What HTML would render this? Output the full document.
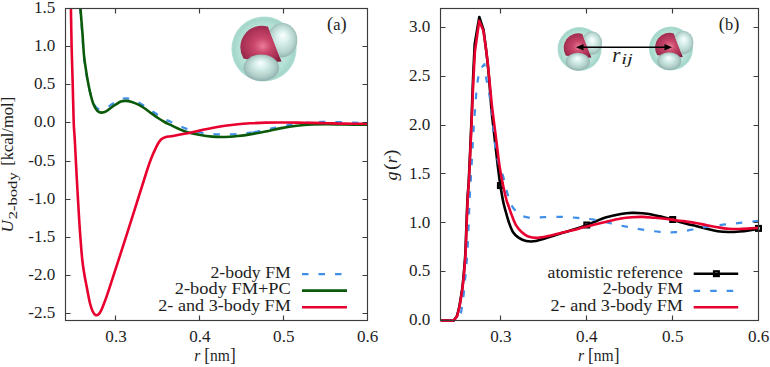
<!DOCTYPE html><html><head><meta charset="utf-8"><style>html,body{margin:0;padding:0;background:#fff;width:770px;height:367px;overflow:hidden}svg{display:block}text{font-family:"Liberation Serif", serif;fill:#1e1e1e}</style></head><body>
<svg width="770" height="367" viewBox="0 0 770 367">
<defs><clipPath id="cl"><rect x="65" y="8" width="302" height="312.5"/></clipPath><clipPath id="cr"><rect x="440.5" y="8" width="318" height="314"/></clipPath><radialGradient id="halo" cx="0.5" cy="0.5" r="0.5"><stop offset="0" stop-color="#c4eae0"/><stop offset="0.75" stop-color="#b6e2d6"/><stop offset="0.93" stop-color="#a4d6ca"/><stop offset="1" stop-color="#b4e0d6"/></radialGradient><radialGradient id="oxy" cx="0.5" cy="0.5" r="0.6" fx="0.55" fy="0.55"><stop offset="0" stop-color="#ec7c98"/><stop offset="0.35" stop-color="#c8466a"/><stop offset="0.8" stop-color="#a42e52"/><stop offset="1" stop-color="#84203e"/></radialGradient><radialGradient id="hyd" cx="0.5" cy="0.5" r="0.55" fx="0.52" fy="0.35"><stop offset="0" stop-color="#fbfffe"/><stop offset="0.3" stop-color="#dcf2ee"/><stop offset="0.72" stop-color="#b6d4ce"/><stop offset="1" stop-color="#8cacaa"/></radialGradient><radialGradient id="hyd2" cx="0.5" cy="0.5" r="0.55" fx="0.48" fy="0.3"><stop offset="0" stop-color="#fbfffe"/><stop offset="0.3" stop-color="#d8f0ec"/><stop offset="0.72" stop-color="#b0cec8"/><stop offset="1" stop-color="#88a6a6"/></radialGradient></defs>
<path d="M80.00,0.00 C80.03,1.37 79.83,2.77 80.20,8.20 C80.57,13.63 81.60,24.73 82.20,32.60 C82.80,40.47 83.25,49.50 83.80,55.40 C84.35,61.30 84.95,64.18 85.50,68.00 C86.05,71.82 86.42,74.55 87.10,78.30 C87.78,82.05 88.65,86.63 89.60,90.50 C90.55,94.37 91.63,98.62 92.80,101.50 C93.97,104.38 95.32,106.47 96.60,107.80 C97.88,109.13 99.02,109.37 100.50,109.50 C101.98,109.63 103.55,109.52 105.50,108.60 C107.45,107.68 110.53,105.13 112.20,104.00 C113.87,102.87 114.05,102.63 115.50,101.80 C116.95,100.97 119.08,99.58 120.90,99.00 C122.72,98.42 124.58,98.25 126.40,98.30 C128.22,98.35 129.80,98.62 131.80,99.30 C133.80,99.98 136.22,101.23 138.40,102.40 C140.58,103.57 142.72,104.92 144.90,106.30 C147.08,107.68 149.32,109.23 151.50,110.70 C153.68,112.17 155.83,113.73 158.00,115.10 C160.17,116.47 162.50,117.83 164.50,118.90 C166.50,119.97 167.75,120.45 170.00,121.50 C172.25,122.55 175.33,124.02 178.00,125.20 C180.67,126.38 182.28,127.38 186.00,128.60 C189.72,129.82 195.33,131.55 200.30,132.50 C205.27,133.45 210.50,134.00 215.80,134.30 C221.10,134.60 226.25,134.58 232.10,134.30 C237.95,134.02 247.57,132.92 250.90,132.60 C254.23,132.28 251.90,132.43 252.10,132.40" fill="none" stroke="#3f8fe8" stroke-width="2.2" stroke-linejoin="round" stroke-dasharray="6.5,10" stroke-dashoffset="8.90" id="lb1" clip-path="url(#cl)"/>
<path d="M252.10,132.40 C252.98,132.25 254.12,132.17 257.40,131.50 C260.68,130.83 266.67,129.45 271.80,128.40 C276.93,127.35 282.67,126.10 288.20,125.20 C293.73,124.30 299.42,123.55 305.00,123.00 C310.58,122.45 315.93,122.05 321.70,121.90 C327.47,121.75 333.37,121.93 339.60,122.10 C345.83,122.27 354.37,122.72 359.10,122.90 C363.83,123.08 366.52,123.15 368.00,123.20" fill="none" stroke="#3f8fe8" stroke-width="2.2" stroke-linejoin="round" stroke-dasharray="6.5,10" stroke-dashoffset="14.70" id="lb2" clip-path="url(#cl)"/>
<path d="M80.00,0.00 C80.07,1.37 80.00,2.77 80.40,8.20 C80.80,13.63 81.80,24.73 82.40,32.60 C83.00,40.47 83.45,49.50 84.00,55.40 C84.55,61.30 85.15,64.18 85.70,68.00 C86.25,71.82 86.62,74.47 87.30,78.30 C87.98,82.13 88.83,86.83 89.80,91.00 C90.77,95.17 91.88,100.03 93.10,103.30 C94.32,106.57 95.75,109.05 97.10,110.60 C98.45,112.15 99.70,112.47 101.20,112.60 C102.70,112.73 104.18,112.42 106.10,111.40 C108.02,110.38 111.13,107.62 112.70,106.50 C114.27,105.38 114.13,105.53 115.50,104.70 C116.87,103.87 119.18,102.13 120.90,101.50 C122.62,100.87 123.98,100.82 125.80,100.90 C127.62,100.98 129.70,101.37 131.80,102.00 C133.90,102.63 136.22,103.62 138.40,104.70 C140.58,105.78 142.72,107.05 144.90,108.50 C147.08,109.95 149.32,111.82 151.50,113.40 C153.68,114.98 155.83,116.57 158.00,118.00 C160.17,119.43 162.50,120.88 164.50,122.00 C166.50,123.12 167.75,123.62 170.00,124.70 C172.25,125.78 175.33,127.32 178.00,128.50 C180.67,129.68 182.50,130.77 186.00,131.80 C189.50,132.83 194.67,133.90 199.00,134.70 C203.33,135.50 207.67,136.22 212.00,136.60 C216.33,136.98 220.68,137.10 225.00,137.00 C229.32,136.90 233.73,136.43 237.90,136.00 C242.07,135.57 245.38,135.15 250.00,134.40 C254.62,133.65 260.40,132.55 265.60,131.50 C270.80,130.45 276.00,129.07 281.20,128.10 C286.40,127.13 291.62,126.30 296.80,125.70 C301.98,125.10 307.12,124.75 312.30,124.50 C317.48,124.25 322.70,124.20 327.90,124.20 C333.10,124.20 336.82,124.40 343.50,124.50 C350.18,124.60 363.92,124.75 368.00,124.80" fill="none" stroke="#0a5a0a" stroke-width="2.6" stroke-linejoin="round" clip-path="url(#cl)"/>
<path d="M70.50,0.00 C70.57,1.33 70.72,0.33 70.90,8.00 C71.08,15.67 71.32,34.00 71.60,46.00 C71.88,58.00 72.25,67.33 72.60,80.00 C72.95,92.67 73.33,112.00 73.70,122.00 C74.07,132.00 74.32,131.17 74.80,140.00 C75.28,148.83 75.87,161.67 76.60,175.00 C77.33,188.33 78.53,209.17 79.20,220.00 C79.87,230.83 80.08,233.33 80.60,240.00 C81.12,246.67 81.67,254.22 82.30,260.00 C82.93,265.78 83.63,270.07 84.40,274.70 C85.17,279.33 86.00,283.17 86.90,287.80 C87.80,292.43 88.85,298.60 89.80,302.50 C90.75,306.40 91.63,309.12 92.60,311.20 C93.57,313.28 94.60,314.50 95.60,315.00 C96.60,315.50 97.67,314.98 98.60,314.20 C99.53,313.42 100.30,312.08 101.20,310.30 C102.10,308.52 102.70,306.98 104.00,303.50 C105.30,300.02 105.20,300.93 109.00,289.40 C112.80,277.87 120.92,252.70 126.80,234.30 C132.68,215.90 140.63,190.55 144.30,179.00 C147.97,167.45 147.60,168.55 148.80,165.00 C150.00,161.45 150.50,160.18 151.50,157.70 C152.50,155.22 153.70,152.47 154.80,150.10 C155.90,147.73 157.02,145.32 158.10,143.50 C159.18,141.68 160.12,140.25 161.30,139.20 C162.48,138.15 163.25,137.73 165.20,137.20 C167.15,136.67 169.53,136.60 173.00,136.00 C176.47,135.40 181.67,134.48 186.00,133.60 C190.33,132.72 194.67,131.63 199.00,130.70 C203.33,129.77 207.67,128.82 212.00,128.00 C216.33,127.18 220.68,126.43 225.00,125.80 C229.32,125.17 233.73,124.62 237.90,124.20 C242.07,123.78 245.38,123.57 250.00,123.30 C254.62,123.03 260.40,122.73 265.60,122.60 C270.80,122.47 276.00,122.50 281.20,122.50 C286.40,122.50 291.62,122.53 296.80,122.60 C301.98,122.67 307.12,122.80 312.30,122.90 C317.48,123.00 322.70,123.08 327.90,123.20 C333.10,123.32 336.82,123.50 343.50,123.60 C350.18,123.70 363.92,123.77 368.00,123.80" fill="none" stroke="#e8002e" stroke-width="2.6" stroke-linejoin="round" clip-path="url(#cl)"/>
<rect x="65.5" y="8.5" width="302" height="312" fill="none" stroke="#3c3c3c" stroke-width="1.15"/>
<path d="M65.5,46.5h5M367.5,46.5h-5" stroke="#3c3c3c" stroke-width="1.15"/>
<path d="M65.5,84.5h5M367.5,84.5h-5" stroke="#3c3c3c" stroke-width="1.15"/>
<path d="M65.5,122.5h5M367.5,122.5h-5" stroke="#3c3c3c" stroke-width="1.15"/>
<path d="M65.5,161.5h5M367.5,161.5h-5" stroke="#3c3c3c" stroke-width="1.15"/>
<path d="M65.5,199.5h5M367.5,199.5h-5" stroke="#3c3c3c" stroke-width="1.15"/>
<path d="M65.5,237.5h5M367.5,237.5h-5" stroke="#3c3c3c" stroke-width="1.15"/>
<path d="M65.5,275.5h5M367.5,275.5h-5" stroke="#3c3c3c" stroke-width="1.15"/>
<path d="M65.5,313.5h5M367.5,313.5h-5" stroke="#3c3c3c" stroke-width="1.15"/>
<path d="M115.5,320.5v-5M115.5,8.5v5" stroke="#3c3c3c" stroke-width="1.15"/>
<path d="M199.5,320.5v-5M199.5,8.5v5" stroke="#3c3c3c" stroke-width="1.15"/>
<path d="M283.5,320.5v-5M283.5,8.5v5" stroke="#3c3c3c" stroke-width="1.15"/>
<text x="55.40" y="13.00" text-anchor="end" font-size="17.1">1.5</text>
<text x="55.40" y="51.12" text-anchor="end" font-size="17.1">1.0</text>
<text x="55.40" y="89.25" text-anchor="end" font-size="17.1">0.5</text>
<text x="55.40" y="127.38" text-anchor="end" font-size="17.1">0.0</text>
<text x="55.40" y="165.50" text-anchor="end" font-size="17.1">-0.5</text>
<text x="55.40" y="203.62" text-anchor="end" font-size="17.1">-1.0</text>
<text x="55.40" y="241.75" text-anchor="end" font-size="17.1">-1.5</text>
<text x="55.40" y="279.88" text-anchor="end" font-size="17.1">-2.0</text>
<text x="55.40" y="318.00" text-anchor="end" font-size="17.1">-2.5</text>
<text x="116.03" y="342.40" text-anchor="middle" font-size="17.1">0.3</text>
<text x="199.92" y="342.40" text-anchor="middle" font-size="17.1">0.4</text>
<text x="283.81" y="342.40" text-anchor="middle" font-size="17.1">0.5</text>
<text x="367.70" y="342.40" text-anchor="middle" font-size="17.1">0.6</text>
<text x="194.3" y="361" font-size="16.6" textLength="41.5" lengthAdjust="spacingAndGlyphs"><tspan font-style="italic">r</tspan> <tspan font-size="18.6">[</tspan>nm<tspan font-size="18.6">]</tspan></text>
<text transform="translate(12.9,232.6) rotate(-90)" font-size="16.6" font-style="italic" textLength="12.3" lengthAdjust="spacingAndGlyphs">U</text>
<text transform="translate(16.7,219.3) rotate(-90)" font-size="11.6" textLength="47" lengthAdjust="spacingAndGlyphs">2-body</text>
<text transform="translate(13.0,165.8) rotate(-90)" font-size="16.6" textLength="69" lengthAdjust="spacingAndGlyphs">[kcal/mol]</text>
<text x="327.0" y="30.0" font-size="16.6" textLength="19.6" lengthAdjust="spacingAndGlyphs"><tspan font-size="18.6">(</tspan>a<tspan font-size="18.6">)</tspan></text>
<text x="290.80" y="277.80" text-anchor="end" font-size="16.6" textLength="80.3" lengthAdjust="spacingAndGlyphs">2-body FM</text>
<text x="290.80" y="294.20" text-anchor="end" font-size="16.6" textLength="116.0" lengthAdjust="spacingAndGlyphs">2-body FM+PC</text>
<text x="290.80" y="310.50" text-anchor="end" font-size="16.6" textLength="132.5" lengthAdjust="spacingAndGlyphs">2- and 3-body FM</text>
<path d="M302,274.2H347" stroke="#3f8fe8" stroke-width="2.2" stroke-dasharray="6.5,10"/>
<path d="M302,290.6H347" stroke="#0a5a0a" stroke-width="2.6"/>
<path d="M302,307.3H347" stroke="#e8002e" stroke-width="2.6"/>
<clipPath id="h1ca"><polygon points="255.00,-6.70 294.00,93.50 324.00,93.50 324.00,-6.70"/></clipPath>
<circle cx="264.00" cy="49.00" r="32.60" fill="url(#halo)"/>
<path d="M243.50,58.50 A21.50,21.50 0 0 1 268.00,26.70 L281.50,61.50 L264.00,63.00 Z" fill="url(#oxy)"/>
<ellipse cx="282.30" cy="40.20" rx="15.00" ry="17.20" fill="url(#hyd)" clip-path="url(#h1ca)"/>
<ellipse cx="261.30" cy="67.80" rx="17.80" ry="13.30" fill="url(#hyd2)"/>
<path d="M440.50,320.60 C442.68,320.60 451.42,320.60 453.60,320.60 C454.13,319.88 456.27,317.02 456.80,316.30 C457.17,314.92 458.32,311.18 459.00,308.00 C459.68,304.82 460.30,300.92 460.90,297.20 C461.50,293.48 462.02,290.85 462.60,285.70 C463.18,280.55 463.92,272.25 464.40,266.30 C464.88,260.35 465.00,261.05 465.50,250.00 C466.00,238.95 466.85,211.67 467.40,200.00 C467.95,188.33 468.12,193.33 468.80,180.00 C469.48,166.67 470.80,136.67 471.50,120.00 C472.20,103.33 472.47,92.67 473.00,80.00 C473.53,67.33 474.42,50.00 474.70,44.00 C475.47,39.50 478.53,21.50 479.30,17.00 C480.00,19.10 482.80,27.50 483.50,29.60 C483.83,32.17 484.85,39.77 485.50,45.00 C486.15,50.23 486.80,55.33 487.40,61.00 C488.00,66.67 488.60,73.25 489.10,79.00 C489.60,84.75 490.00,90.33 490.40,95.50 C490.80,100.67 490.82,103.05 491.50,110.00 C492.18,116.95 493.48,128.13 494.50,137.20 C495.52,146.27 496.75,157.27 497.60,164.40 C498.45,171.53 498.93,175.23 499.60,180.00 C500.27,184.77 500.93,189.08 501.60,193.00 C502.27,196.92 502.87,200.25 503.60,203.50 C504.33,206.75 505.05,209.17 506.00,212.50 C506.95,215.83 508.12,220.22 509.30,223.50 C510.48,226.78 511.57,229.83 513.10,232.20 C514.63,234.57 516.33,236.23 518.50,237.70 C520.67,239.17 523.18,240.45 526.10,241.00 C529.02,241.55 531.87,241.73 536.00,241.00 C540.13,240.27 546.60,237.92 550.90,236.60 C555.20,235.28 558.17,234.23 561.80,233.10 C565.43,231.97 569.07,230.93 572.70,229.80 C576.33,228.67 579.97,227.62 583.60,226.30 C587.23,224.98 590.87,223.37 594.50,221.90 C598.13,220.43 601.00,218.82 605.40,217.50 C609.80,216.18 616.50,214.77 620.90,214.00 C625.30,213.23 628.17,213.02 631.80,212.90 C635.43,212.78 639.07,212.95 642.70,213.30 C646.33,213.65 649.97,214.32 653.60,215.00 C657.23,215.68 661.42,216.67 664.50,217.40 C667.58,218.13 669.38,218.58 672.10,219.40 C674.82,220.22 677.82,221.40 680.80,222.30 C683.78,223.20 687.48,224.20 690.00,224.80 C692.52,225.40 693.10,225.23 695.90,225.90 C698.70,226.57 703.17,227.92 706.80,228.80 C710.43,229.68 714.07,230.67 717.70,231.20 C721.33,231.73 724.97,231.95 728.60,232.00 C732.23,232.05 735.87,231.82 739.50,231.50 C743.13,231.18 747.23,230.58 750.40,230.10 C753.57,229.62 757.15,228.85 758.50,228.60" fill="none" stroke="#000" stroke-width="2.6" stroke-linejoin="round" clip-path="url(#cr)"/>
<rect x="498.00" y="183.20" width="4.8" height="4.8" fill="none" stroke="#000" stroke-width="2.2"/>
<rect x="584.40" y="222.60" width="4.8" height="4.8" fill="none" stroke="#000" stroke-width="2.2"/>
<rect x="670.30" y="217.10" width="4.8" height="4.8" fill="none" stroke="#000" stroke-width="2.2"/>
<rect x="756.10" y="226.00" width="4.8" height="4.8" fill="none" stroke="#000" stroke-width="2.2"/>
<path d="M440.50,320.60 C442.08,320.60 448.42,320.60 450.00,320.60 C451.00,320.43 454.30,320.53 456.00,319.60 C457.70,318.67 459.10,317.77 460.20,315.00 C461.30,312.23 461.83,308.38 462.60,303.00 C463.37,297.62 463.98,291.53 464.80,282.70 C465.62,273.87 466.70,263.78 467.50,250.00 C468.30,236.22 469.05,211.67 469.60,200.00 C470.15,188.33 470.15,191.50 470.80,180.00 C471.45,168.50 472.87,141.75 473.50,131.00 C474.13,120.25 474.05,122.67 474.60,115.50 C475.15,108.33 476.00,95.53 476.80,88.00 C477.60,80.47 478.97,73.25 479.40,70.30 C480.23,69.28 483.57,65.22 484.40,64.20 C484.57,65.83 484.90,70.70 485.40,74.00 C485.90,77.30 486.65,80.00 487.40,84.00 C488.15,88.00 489.12,92.75 489.90,98.00 C490.68,103.25 491.12,106.72 492.10,115.50 C493.08,124.28 494.57,142.28 495.80,150.70 C497.03,159.12 498.22,161.53 499.50,166.00 C500.78,170.47 502.25,173.17 503.50,177.50 C504.75,181.83 505.82,187.82 507.00,192.00 C508.18,196.18 509.68,200.13 510.60,202.60 C511.52,205.07 511.55,205.32 512.50,206.80 C513.45,208.28 514.98,210.10 516.30,211.50 C517.62,212.90 518.53,214.22 520.40,215.20 C522.27,216.18 525.07,217.00 527.50,217.40 C529.93,217.80 532.18,217.63 535.00,217.60 C537.82,217.57 540.12,217.33 544.40,217.20 C548.68,217.07 555.17,216.68 560.70,216.80 C566.23,216.92 572.05,217.42 577.60,217.90 C583.15,218.38 588.37,218.77 594.00,219.70 C599.63,220.63 606.02,222.33 611.40,223.50 C616.78,224.67 621.08,225.68 626.30,226.70 C631.52,227.72 637.15,228.75 642.70,229.60 C648.25,230.45 654.07,231.37 659.60,231.80 C665.13,232.23 670.40,232.58 675.90,232.20 C681.40,231.82 687.45,230.40 692.60,229.50 C697.75,228.60 701.35,227.65 706.80,226.80 C712.25,225.95 719.48,225.08 725.30,224.40 C731.12,223.72 736.17,223.30 741.70,222.70 C747.23,222.10 755.70,221.12 758.50,220.80" fill="none" stroke="#3f8fe8" stroke-width="2.2" stroke-linejoin="round" stroke-dasharray="6.5,10" stroke-dashoffset="9.10" id="rb" clip-path="url(#cr)"/>
<path d="M440.50,320.60 C442.68,320.60 451.42,320.60 453.60,320.60 C454.17,319.88 456.43,317.02 457.00,316.30 C457.37,314.92 458.52,311.18 459.20,308.00 C459.88,304.82 460.50,300.92 461.10,297.20 C461.70,293.48 462.22,290.85 462.80,285.70 C463.38,280.55 464.12,272.25 464.60,266.30 C465.08,260.35 465.20,261.05 465.70,250.00 C466.20,238.95 467.05,211.67 467.60,200.00 C468.15,188.33 468.32,193.33 469.00,180.00 C469.68,166.67 470.98,136.33 471.70,120.00 C472.42,103.67 472.77,93.42 473.30,82.00 C473.83,70.58 474.63,56.58 474.90,51.50 C475.62,46.40 478.48,26.00 479.20,20.90 C479.90,22.55 482.70,29.15 483.40,30.80 C483.77,33.33 484.90,40.80 485.60,46.00 C486.30,51.20 486.97,56.33 487.60,62.00 C488.23,67.67 488.85,74.42 489.40,80.00 C489.95,85.58 490.40,90.50 490.90,95.50 C491.40,100.50 491.57,103.05 492.40,110.00 C493.23,116.95 494.75,128.13 495.90,137.20 C497.05,146.27 498.18,156.77 499.30,164.40 C500.42,172.03 501.45,177.23 502.60,183.00 C503.75,188.77 505.27,195.33 506.20,199.00 C507.13,202.67 507.23,202.18 508.20,205.00 C509.17,207.82 510.65,212.45 512.00,215.90 C513.35,219.35 514.67,222.98 516.30,225.70 C517.93,228.42 519.80,230.38 521.80,232.20 C523.80,234.02 525.58,235.67 528.30,236.60 C531.02,237.53 534.33,237.98 538.10,237.80 C541.87,237.62 546.95,236.33 550.90,235.50 C554.85,234.67 558.17,233.67 561.80,232.80 C565.43,231.93 569.07,231.22 572.70,230.30 C576.33,229.38 579.97,228.25 583.60,227.30 C587.23,226.35 590.87,225.50 594.50,224.60 C598.13,223.70 601.00,222.92 605.40,221.90 C609.80,220.88 616.50,219.28 620.90,218.50 C625.30,217.72 628.17,217.47 631.80,217.20 C635.43,216.93 639.07,216.82 642.70,216.90 C646.33,216.98 649.97,217.40 653.60,217.70 C657.23,218.00 660.87,218.28 664.50,218.70 C668.13,219.12 671.98,219.75 675.40,220.20 C678.82,220.65 681.58,220.93 685.00,221.40 C688.42,221.87 692.27,222.37 695.90,223.00 C699.53,223.63 703.17,224.48 706.80,225.20 C710.43,225.92 714.07,226.70 717.70,227.30 C721.33,227.90 724.97,228.52 728.60,228.80 C732.23,229.08 735.87,229.07 739.50,229.00 C743.13,228.93 747.23,228.58 750.40,228.40 C753.57,228.22 757.15,227.98 758.50,227.90" fill="none" stroke="#e8002e" stroke-width="2.6" stroke-linejoin="round" clip-path="url(#cr)"/>
<rect x="440.5" y="8.5" width="318" height="312" fill="none" stroke="#3c3c3c" stroke-width="1.15"/>
<path d="M440.5,271.5h5M758.5,271.5h-5" stroke="#3c3c3c" stroke-width="1.15"/>
<path d="M440.5,222.5h5M758.5,222.5h-5" stroke="#3c3c3c" stroke-width="1.15"/>
<path d="M440.5,173.5h5M758.5,173.5h-5" stroke="#3c3c3c" stroke-width="1.15"/>
<path d="M440.5,125.5h5M758.5,125.5h-5" stroke="#3c3c3c" stroke-width="1.15"/>
<path d="M440.5,76.5h5M758.5,76.5h-5" stroke="#3c3c3c" stroke-width="1.15"/>
<path d="M440.5,27.5h5M758.5,27.5h-5" stroke="#3c3c3c" stroke-width="1.15"/>
<path d="M500.5,320.5v-5M500.5,8.5v5" stroke="#3c3c3c" stroke-width="1.15"/>
<path d="M586.5,320.5v-5M586.5,8.5v5" stroke="#3c3c3c" stroke-width="1.15"/>
<path d="M672.5,320.5v-5M672.5,8.5v5" stroke="#3c3c3c" stroke-width="1.15"/>
<text x="430.40" y="325.30" text-anchor="end" font-size="17.1">0.0</text>
<text x="430.40" y="276.47" text-anchor="end" font-size="17.1">0.5</text>
<text x="430.40" y="227.63" text-anchor="end" font-size="17.1">1.0</text>
<text x="430.40" y="178.80" text-anchor="end" font-size="17.1">1.5</text>
<text x="430.40" y="129.96" text-anchor="end" font-size="17.1">2.0</text>
<text x="430.40" y="81.12" text-anchor="end" font-size="17.1">2.5</text>
<text x="430.40" y="32.29" text-anchor="end" font-size="17.1">3.0</text>
<text x="500.86" y="342.40" text-anchor="middle" font-size="17.1">0.3</text>
<text x="586.81" y="342.40" text-anchor="middle" font-size="17.1">0.4</text>
<text x="672.75" y="342.40" text-anchor="middle" font-size="17.1">0.5</text>
<text x="758.70" y="342.40" text-anchor="middle" font-size="17.1">0.6</text>
<text x="577.9" y="361" font-size="16.6" textLength="41.6" lengthAdjust="spacingAndGlyphs"><tspan font-style="italic">r</tspan> <tspan font-size="18.6">[</tspan>nm<tspan font-size="18.6">]</tspan></text>
<text transform="translate(396.6,180.6) rotate(-90)" font-size="16.6" textLength="31" lengthAdjust="spacingAndGlyphs"><tspan font-style="italic">g</tspan><tspan dx="1.5" font-size="18.8">(</tspan><tspan font-style="italic">r</tspan><tspan font-size="18.8">)</tspan></text>
<text x="718.8" y="30.0" font-size="16.6" textLength="20.5" lengthAdjust="spacingAndGlyphs"><tspan font-size="18.6">(</tspan>b<tspan font-size="18.6">)</tspan></text>
<text x="683.00" y="277.80" text-anchor="end" font-size="16.6" textLength="135.5" lengthAdjust="spacingAndGlyphs">atomistic reference</text>
<text x="683.00" y="294.20" text-anchor="end" font-size="16.6" textLength="80.3" lengthAdjust="spacingAndGlyphs">2-body FM</text>
<text x="683.00" y="310.50" text-anchor="end" font-size="16.6" textLength="132.5" lengthAdjust="spacingAndGlyphs">2- and 3-body FM</text>
<path d="M693.7,273.7H738.2" stroke="#000" stroke-width="2.6"/>
<rect x="714.0" y="271.3" width="4.8" height="4.8" fill="none" stroke="#000" stroke-width="2.2"/>
<path d="M693.7,290.8H738.2" stroke="#3f8fe8" stroke-width="2.2" stroke-dasharray="6.5,10"/>
<path d="M693.7,307.3H738.2" stroke="#e8002e" stroke-width="2.6"/>
<clipPath id="h1cb"><polygon points="573.52,11.40 599.85,79.04 620.10,79.04 620.10,11.40"/></clipPath>
<circle cx="579.60" cy="49.00" r="22.01" fill="url(#halo)"/>
<path d="M565.76,55.41 A14.51,14.51 0 0 1 582.30,33.95 L591.41,57.44 L579.60,58.45 Z" fill="url(#oxy)"/>
<ellipse cx="591.95" cy="43.06" rx="10.12" ry="11.61" fill="url(#hyd)" clip-path="url(#h1cb)"/>
<ellipse cx="577.78" cy="61.69" rx="12.02" ry="8.98" fill="url(#hyd2)"/>
<clipPath id="h1cc"><polygon points="664.92,10.90 691.25,78.54 711.50,78.54 711.50,10.90"/></clipPath>
<circle cx="671.00" cy="48.50" r="22.01" fill="url(#halo)"/>
<path d="M657.16,54.91 A14.51,14.51 0 0 1 673.70,33.45 L682.81,56.94 L671.00,57.95 Z" fill="url(#oxy)"/>
<ellipse cx="683.35" cy="42.56" rx="10.12" ry="11.61" fill="url(#hyd)" clip-path="url(#h1cc)"/>
<ellipse cx="669.18" cy="61.19" rx="12.02" ry="8.98" fill="url(#hyd2)"/>
<path d="M583,47.2H665" stroke="#000" stroke-width="1.4"/>
<path d="M576,47.2l7.5,-3.3v6.6z" fill="#000"/>
<path d="M672,47.2l-7.5,-3.3v6.6z" fill="#000"/>
<text x="612.3" y="61.7" font-size="21" font-style="italic">r</text><text x="621.3" y="64.3" font-size="14.5" font-style="italic" textLength="11.5" lengthAdjust="spacingAndGlyphs">ij</text>
</svg></body></html>
